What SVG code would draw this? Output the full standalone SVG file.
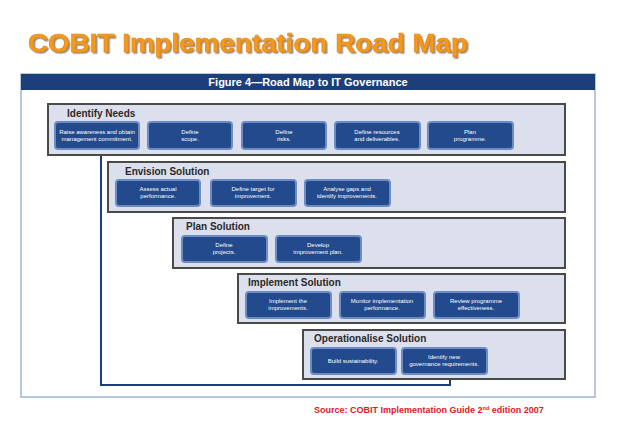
<svg xmlns="http://www.w3.org/2000/svg" width="638" height="442" viewBox="0 0 638 442">
<defs><filter id="sh" x="-5%" y="-20%" width="110%" height="150%"><feDropShadow dx="1.5" dy="1.5" stdDeviation="0.6" flood-color="#7a5a30" flood-opacity="0.7"/></filter></defs>
<style>
.panel{fill:#dcdfec;stroke:#4a4a4a;stroke-width:2}
.btn{fill:#224a8c;stroke:#6d8cc4;stroke-width:2}
.pt{font-family:"Liberation Sans",Arial,sans-serif;font-weight:bold;font-size:10px;fill:#2a2a2a}
.bt{font-family:"Liberation Sans",Arial,sans-serif;font-size:6px;fill:#fff;text-anchor:middle}
</style>
<rect width="638" height="442" fill="#fff"/>
<text x="28" y="52" font-family="'Liberation Sans',Arial,sans-serif" font-weight="bold" font-size="26" fill="#f39a1c" stroke="#e0861a" stroke-width="0.6" textLength="440" lengthAdjust="spacingAndGlyphs" filter="url(#sh)">COBIT Implementation Road Map</text>
<rect x="21" y="74" width="574" height="323" fill="#fff" stroke="#b8c8dc" stroke-width="2"/>
<rect x="21" y="74" width="574" height="16" fill="#1c3f7c"/>
<text x="308" y="86" font-family="'Liberation Sans',Arial,sans-serif" font-weight="bold" font-size="11" fill="#fff" text-anchor="middle">Figure 4—Road Map to IT Governance</text>
<g id="connectors"><polyline points="450,374 450,385 101,385 101,152" fill="none" stroke="#1c3f7c" stroke-width="2"/></g>
<g id="identify">
<rect class="panel" x="48" y="104" width="517" height="51"/>
<text class="pt" x="67" y="117">Identify Needs</text>
<rect class="btn" x="55" y="122" width="84" height="27" rx="3"/><text class="bt" x="97" y="134">Raise awareness and obtain</text><text class="bt" x="97" y="141">management commitment.</text>
<rect class="btn" x="148" y="122" width="84" height="27" rx="3"/><text class="bt" x="190" y="134">Define</text><text class="bt" x="190" y="141">scope.</text>
<rect class="btn" x="242" y="122" width="84" height="27" rx="3"/><text class="bt" x="284" y="134">Define</text><text class="bt" x="284" y="141">risks.</text>
<rect class="btn" x="335" y="122" width="85" height="27" rx="3"/><text class="bt" x="377" y="134">Define resources</text><text class="bt" x="377" y="141">and deliverables.</text>
<rect class="btn" x="428" y="122" width="85" height="27" rx="3"/><text class="bt" x="470" y="134">Plan</text><text class="bt" x="470" y="141">programme.</text>
</g>
<g id="envision">
<rect class="panel" x="108" y="162" width="457" height="50"/>
<text class="pt" x="125" y="175">Envision Solution</text>
<rect class="btn" x="116" y="180" width="84" height="26" rx="3"/><text class="bt" x="158" y="191">Assess actual</text><text class="bt" x="158" y="198">performance.</text>
<rect class="btn" x="211" y="180" width="85" height="26" rx="3"/><text class="bt" x="253" y="191">Define target for</text><text class="bt" x="253" y="198">improvement.</text>
<rect class="btn" x="305" y="180" width="85" height="26" rx="3"/><text class="bt" x="347" y="191">Analyse gaps and</text><text class="bt" x="347" y="198">identify improvements.</text>
</g>
<g id="plan">
<rect class="panel" x="173" y="218" width="392" height="50"/>
<text class="pt" x="186" y="230">Plan Solution</text>
<rect class="btn" x="182" y="236" width="85" height="26" rx="3"/><text class="bt" x="224" y="247">Define</text><text class="bt" x="224" y="254">projects.</text>
<rect class="btn" x="276" y="236" width="85" height="26" rx="3"/><text class="bt" x="318" y="247">Develop</text><text class="bt" x="318" y="254">improvement plan.</text>
</g>
<g id="implement">
<rect class="panel" x="238" y="274" width="327" height="49"/>
<text class="pt" x="248" y="286">Implement Solution</text>
<rect class="btn" x="246" y="292" width="85" height="26" rx="3"/><text class="bt" x="288" y="303">Implement the</text><text class="bt" x="288" y="310">improvements.</text>
<rect class="btn" x="340" y="292" width="85" height="26" rx="3"/><text class="bt" x="382" y="303">Monitor implementation</text><text class="bt" x="382" y="310">performance.</text>
<rect class="btn" x="434" y="292" width="85" height="26" rx="3"/><text class="bt" x="476" y="303">Review programme</text><text class="bt" x="476" y="310">effectiveness.</text>
</g>
<g id="operationalise">
<rect class="panel" x="303" y="330" width="262" height="49"/>
<text class="pt" x="314" y="342">Operationalise Solution</text>
<rect class="btn" x="311" y="348" width="85" height="26" rx="3"/><text class="bt" x="353" y="363">Build sustainability.</text>
<rect class="btn" x="402" y="348" width="85" height="26" rx="3"/><text class="bt" x="444" y="359">Identify new</text><text class="bt" x="444" y="366">governance requirements.</text>
</g>
<text x="314" y="413" font-family="'Liberation Sans',Arial,sans-serif" font-weight="bold" font-size="9" fill="#d9201f">Source: COBIT Implementation Guide  2<tspan font-size="5.5" dy="-3">nd</tspan><tspan dy="3"> edition 2007</tspan></text>
</svg>
